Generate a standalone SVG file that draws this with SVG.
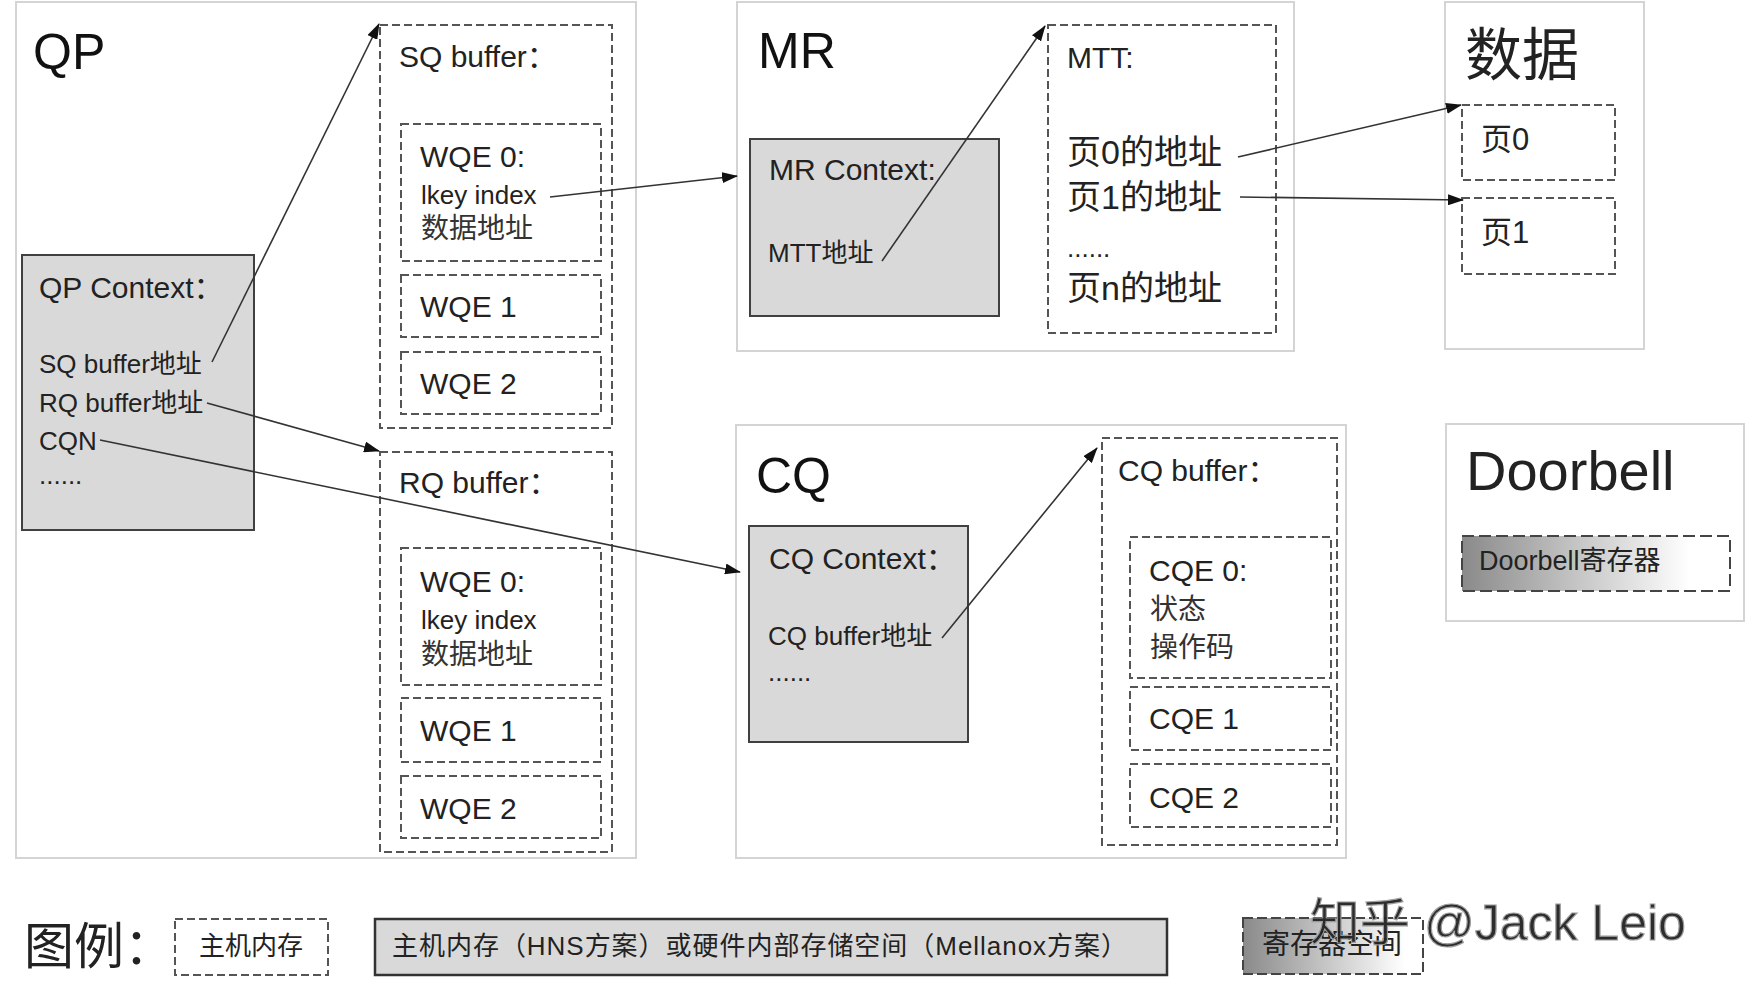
<svg xmlns="http://www.w3.org/2000/svg" width="1746" height="991" viewBox="0 0 1746 991">
<style>
text{font-family:"Liberation Sans","Noto Sans CJK SC",sans-serif;fill:#222}
.outer{fill:#fff;stroke:#d4d4d4;stroke-width:2}
.dash{fill:none;stroke:#555;stroke-width:2;stroke-dasharray:8 4}
.ctx{fill:#d9d9d9;stroke:#404040;stroke-width:2}
.title{font-size:50px;fill:#111}
.h{font-size:30px}
.m{font-size:26px}
.cn{font-size:28px;fill:#333}
.conn{fill:none;stroke:#333;stroke-width:1.6}
</style>
<defs>
<marker id="arr" markerUnits="userSpaceOnUse" markerWidth="16" markerHeight="11" refX="15" refY="5.5" orient="auto">
<path d="M0,0 L16,5.5 L0,11 z" fill="#111"/>
</marker>
<linearGradient id="reg" x1="0" y1="0" x2="1" y2="0">
<stop offset="0" stop-color="#8a8a8a"/>
<stop offset="0.85" stop-color="#fff"/>
<stop offset="1" stop-color="#fff"/>
</linearGradient>
<linearGradient id="reg2" x1="0" y1="0" x2="1" y2="0">
<stop offset="0" stop-color="#8a8a8a"/>
<stop offset="0.9" stop-color="#fff"/>
<stop offset="1" stop-color="#fff"/>
</linearGradient>
</defs>
<rect width="1746" height="991" fill="#fff"/>

<g id="qp">
<rect class="outer" x="16" y="2" width="620" height="856"/>
<text class="title" x="33" y="69">QP</text>
</g>
<g id="qp-context">
<rect class="ctx" x="22" y="255" width="232" height="275"/>
<text class="h" x="39" y="298" font-size="29">QP Context：</text>
<text class="m" x="39" y="373" font-size="27">SQ buffer地址</text>
<text class="m" x="39" y="412" font-size="27">RQ buffer地址</text>
<text class="m" x="39" y="450">CQN</text>
<text class="m" x="39" y="484">......</text>
</g>
<g id="sq-buffer">
<rect class="dash" x="380" y="25" width="232" height="403"/>
<text class="h" x="399" y="67" font-size="28">SQ buffer：</text>
</g>
<g id="sq-wqe0">
<rect class="dash" x="401" y="124" width="200" height="137"/>
<text class="h" x="420" y="167" font-size="31">WQE 0:</text>
<text class="m" x="421" y="204">lkey index</text>
<text class="cn" x="421" y="238">数据地址</text>
</g>
<g id="sq-wqe1">
<rect class="dash" x="401" y="275" width="200" height="62"/>
<text class="h" x="420" y="317">WQE 1</text>
</g>
<g id="sq-wqe2">
<rect class="dash" x="401" y="352" width="200" height="62"/>
<text class="h" x="420" y="394">WQE 2</text>
</g>
<g id="rq-buffer">
<rect class="dash" x="380" y="452" width="232" height="400"/>
<text class="h" x="399" y="493" font-size="28">RQ buffer：</text>
</g>
<g id="rq-wqe0">
<rect class="dash" x="401" y="548" width="200" height="137"/>
<text class="h" x="420" y="592" font-size="31">WQE 0:</text>
<text class="m" x="421" y="629">lkey index</text>
<text class="cn" x="421" y="664">数据地址</text>
</g>
<g id="rq-wqe1">
<rect class="dash" x="401" y="698" width="200" height="64"/>
<text class="h" x="420" y="741">WQE 1</text>
</g>
<g id="rq-wqe2">
<rect class="dash" x="401" y="776" width="200" height="62"/>
<text class="h" x="420" y="819">WQE 2</text>
</g>

<g id="mr">
<rect class="outer" x="737" y="2" width="557" height="349"/>
<text class="title" x="758" y="68">MR</text>
</g>
<g id="mr-context">
<rect class="ctx" x="750" y="139" width="249" height="177"/>
<text class="h" x="769" y="180" font-size="32">MR Context:</text>
<text class="m" x="768" y="262">MTT地址</text>
</g>
<g id="mtt">
<rect class="dash" x="1048" y="25" width="228" height="308"/>
<text class="h" x="1067" y="68">MTT:</text>
<text x="1067" y="164" font-size="34" fill="#333">页0的地址</text>
<text x="1067" y="209" font-size="34" fill="#333">页1的地址</text>
<text x="1067" y="257" font-size="26">......</text>
<text x="1067" y="300" font-size="34" fill="#333">页n的地址</text>
</g>

<g id="data">
<rect class="outer" x="1445" y="2" width="199" height="347"/>
<text x="1465" y="75" font-size="57" fill="#222">数据</text>
</g>
<g id="page0">
<rect class="dash" x="1462" y="105" width="153" height="75"/>
<text x="1481" y="150" font-size="31" fill="#333">页0</text>
</g>
<g id="page1">
<rect class="dash" x="1462" y="198" width="153" height="76"/>
<text x="1481" y="243" font-size="31" fill="#333">页1</text>
</g>

<g id="cq">
<rect class="outer" x="736" y="425" width="610" height="433"/>
<text class="title" x="756" y="493" font-size="48">CQ</text>
</g>
<g id="cq-context">
<rect class="ctx" x="749" y="526" width="219" height="216"/>
<text class="h" x="769" y="569" font-size="28">CQ Context：</text>
<text class="m" x="768" y="645" font-size="27">CQ buffer地址</text>
<text class="m" x="768" y="681">......</text>
</g>
<g id="cq-buffer">
<rect class="dash" x="1102" y="438" width="235" height="407"/>
<text class="h" x="1118" y="481" font-size="28">CQ buffer：</text>
</g>
<g id="cqe0">
<rect class="dash" x="1130" y="537" width="201" height="141"/>
<text class="h" x="1149" y="581">CQE 0:</text>
<text class="cn" x="1150" y="619">状态</text>
<text class="cn" x="1150" y="657">操作码</text>
</g>
<g id="cqe1">
<rect class="dash" x="1130" y="687" width="201" height="63"/>
<text class="h" x="1149" y="729">CQE 1</text>
</g>
<g id="cqe2">
<rect class="dash" x="1130" y="764" width="201" height="63"/>
<text class="h" x="1149" y="808">CQE 2</text>
</g>

<g id="doorbell">
<rect class="outer" x="1446" y="424" width="298" height="197"/>
<text x="1466" y="490" font-size="56" fill="#111">Doorbell</text>
</g>
<g id="doorbell-register">
<rect x="1462" y="536" width="268" height="55" fill="url(#reg)" stroke="#444" stroke-width="2" stroke-dasharray="12 5"/>
<text x="1479" y="570" font-size="27" fill="#222">Doorbell寄存器</text>
</g>

<g id="connectors">
<line class="conn" x1="212" y1="362" x2="379" y2="24" marker-end="url(#arr)"/>
<line class="conn" x1="207" y1="403" x2="379" y2="451" marker-end="url(#arr)"/>
<line class="conn" x1="100" y1="440" x2="740" y2="572" marker-end="url(#arr)"/>
<line class="conn" x1="550" y1="197" x2="737" y2="176" marker-end="url(#arr)"/>
<line class="conn" x1="882" y1="261" x2="1045" y2="26" marker-end="url(#arr)"/>
<line class="conn" x1="942" y1="638" x2="1097" y2="448" marker-end="url(#arr)"/>
<line class="conn" x1="1238" y1="157" x2="1461" y2="105" marker-end="url(#arr)"/>
<line class="conn" x1="1240" y1="197" x2="1463" y2="200" marker-end="url(#arr)"/>
</g>

<g id="legend">
<text x="24" y="964" font-size="50" fill="#222">图例：</text>
<g id="legend-host">
<rect class="dash" x="175" y="919" width="153" height="56"/>
<text x="251" y="955" font-size="26" fill="#333" text-anchor="middle">主机内存</text>
</g>
<g id="legend-hw">
<rect x="375" y="919" width="792" height="56" fill="#d9d9d9" stroke="#333" stroke-width="2.5"/>
<text x="392" y="955" font-size="26" fill="#333" textLength="735" lengthAdjust="spacing">主机内存（HNS方案）或硬件内部存储空间（Mellanox方案）</text>
</g>
<g id="legend-reg">
<rect x="1243" y="918" width="180" height="56" fill="url(#reg2)" stroke="#444" stroke-width="2" stroke-dasharray="10 4"/>
<text x="1262" y="954" font-size="28" fill="#333">寄存器空间</text>
</g>
</g>

<g id="watermark">
<text x="1310" y="940" font-size="50" fill="#fff" stroke="#999" stroke-width="1.2" opacity="0.95">知乎 @Jack Leio</text>
</g>
</svg>
